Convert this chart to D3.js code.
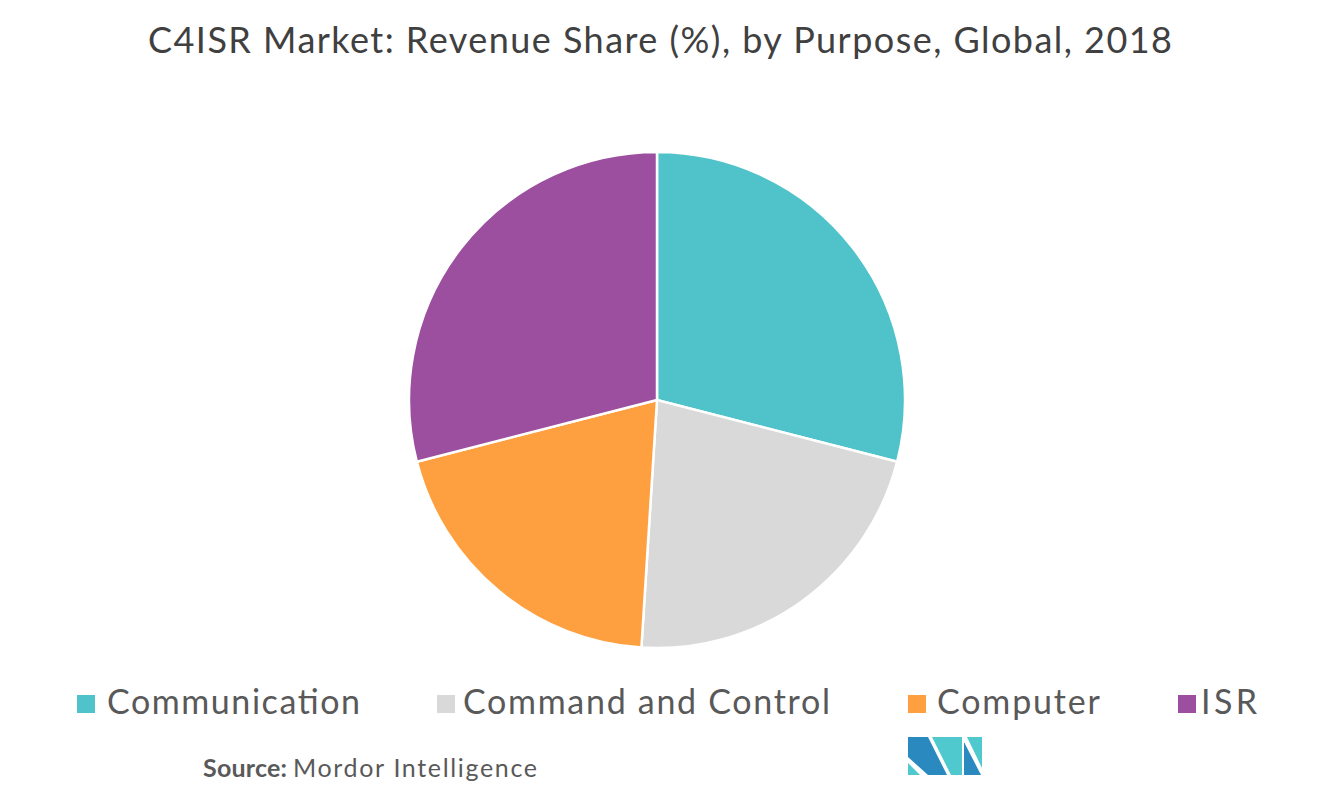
<!DOCTYPE html>
<html><head><meta charset="utf-8">
<script src="https://cdn.jsdelivr.net/npm/d3@7"></script>
<style>body{margin:0;background:#fff}svg{display:block}</style>
</head><body>
<script>
const categories = ["Communication", "Command and Control", "Computer", "ISR"];
const shares = [29, 22, 20, 29];
const colors = ["#4FC3C9", "#D9D9D9", "#FFA040", "#9B4F9E"];
const titleText = "C4ISR Market: Revenue Share (%), by Purpose, Global, 2018";

const W = 1321, H = 802;
const svg = d3.select("body").append("svg").attr("width", W).attr("height", H);

svg.append("text").attr("x", 148).attr("y", 53)
  .attr("font-family", "Lato, sans-serif").attr("font-size", 36).attr("fill", "#404040")
  .attr("textLength", 1024).attr("lengthAdjust", "spacing")
  .text(titleText);

const cx = 657, cy = 400, r = 248;
const pie = d3.pie().sort(null).value(d => d.v);
const arc = d3.arc().innerRadius(0).outerRadius(r);
const data = categories.map((c, i) => ({c, v: shares[i], col: colors[i]}));
svg.append("g").attr("transform", `translate(${cx},${cy})`)
  .selectAll("path").data(pie(data)).join("path")
  .attr("d", arc).attr("fill", d => d.data.col)
  .attr("stroke", "#fff").attr("stroke-width", 2.5);

const legX = [77, 437, 908, 1178];
const legTX = [107, 463, 937, 1201];
const legTW = [253, 367, 163, 56];
const lg = svg.append("g");
data.forEach((d, i) => {
  lg.append("rect").attr("x", legX[i]).attr("y", 695).attr("width", 18).attr("height", 18).attr("fill", d.col);
  lg.append("text").attr("x", legTX[i]).attr("y", 714)
    .attr("font-family", "Lato, sans-serif").attr("font-size", 34).attr("fill", "#595959")
    .attr("textLength", legTW[i]).attr("lengthAdjust", "spacing").text(d.c);
});

svg.append("text").attr("x", 203).attr("y", 777)
  .attr("font-family", "Lato, sans-serif").attr("font-size", 25).attr("font-weight", "bold").attr("fill", "#595959")
  .attr("textLength", 84).attr("lengthAdjust", "spacing").text("Source:");
svg.append("text").attr("x", 293).attr("y", 777)
  .attr("font-family", "Lato, sans-serif").attr("font-size", 25).attr("fill", "#595959")
  .attr("textLength", 244).attr("lengthAdjust", "spacing").text("Mordor Intelligence");

const logo = svg.append("g");
const dark = "#2A89BF", teal = "#4FC9CE";
[
  [[908,737],[928,737],[947,775],[928,775],[908,757]], dark,
  [[908,763],[908,775],[920,775]], teal,
  [[932,737],[962,737],[962,775],[951,775]], teal,
  [[964,742],[981,775],[964,775]], dark,
  [[967,737],[982,737],[982,768]], teal
].forEach((p, i, arr) => {
  if (i % 2 === 0) logo.append("polygon").attr("points", p.map(q => q.join(",")).join(" ")).attr("fill", arr[i+1]);
});
</script>
</body></html>
